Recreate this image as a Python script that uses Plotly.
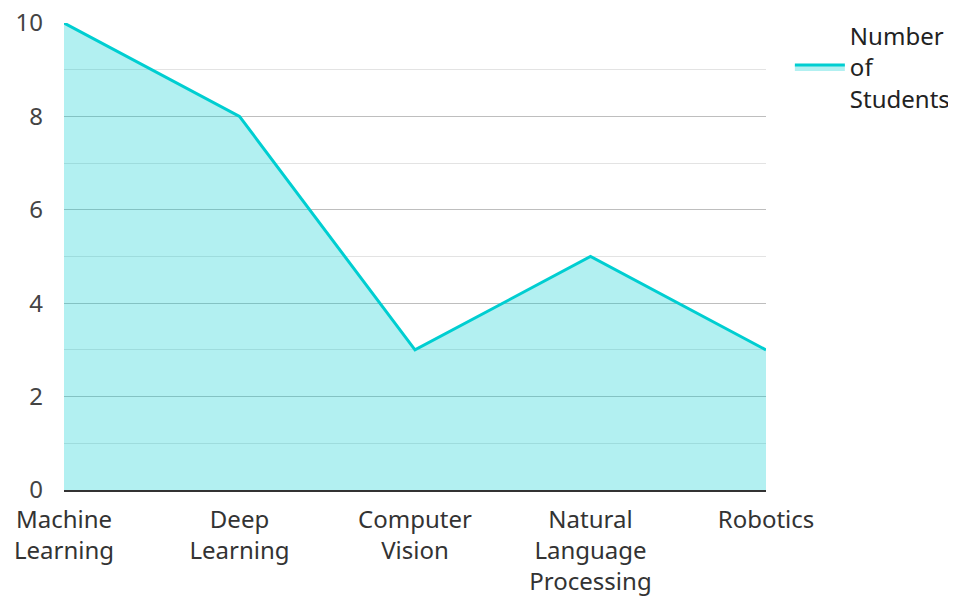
import plotly.graph_objects as go

categories = ["Machine<br>Learning", "Deep<br>Learning", "Computer<br>Vision",
              "Natural<br>Language<br>Processing", "Robotics"]
students = [10, 8, 3, 5, 3]
series_name = "Number<br>of<br>Students"

fig = go.Figure()
fig.add_trace(go.Scatter(
    x=categories, y=students, mode="lines", name=series_name,
    line=dict(color="#00CED1", width=3),
    fill="tozeroy", fillcolor="rgba(0,206,209,0.3)",
))

fig.update_layout(
    width=948, height=589,
    margin=dict(l=56, r=190, t=15, b=107, autoexpand=False),
    paper_bgcolor="white", plot_bgcolor="white",
    font=dict(family="Noto Sans", size=24, color="#333333"),
    showlegend=True,
    legend=dict(x=1.034, y=1.02, xanchor="left", yanchor="top",
                font=dict(size=24, color="#222222"), bgcolor="rgba(0,0,0,0)",
                tracegroupgap=0, itemwidth=50),
    xaxis=dict(
        range=[0, 4], showgrid=False, zeroline=False, automargin=False,
        showline=True, linecolor="#333333", linewidth=2,
        ticks="", ticklabelstandoff=7, ticklabeloverflow="allow",
        tickfont=dict(size=24, color="#333333"),
    ),
    yaxis=dict(
        range=[0, 10], dtick=2, showgrid=True, gridcolor="#BEBEBE", gridwidth=1,
        zeroline=False, showline=False, ticks="", automargin=False,
        ticklabelstandoff=20, ticklabeloverflow="allow",
        tickfont=dict(size=24, color="#444444"),
        minor=dict(dtick=1, showgrid=True, gridcolor="#E3E3E3", gridwidth=1),
    ),
)

fig.write_html("out.html")
